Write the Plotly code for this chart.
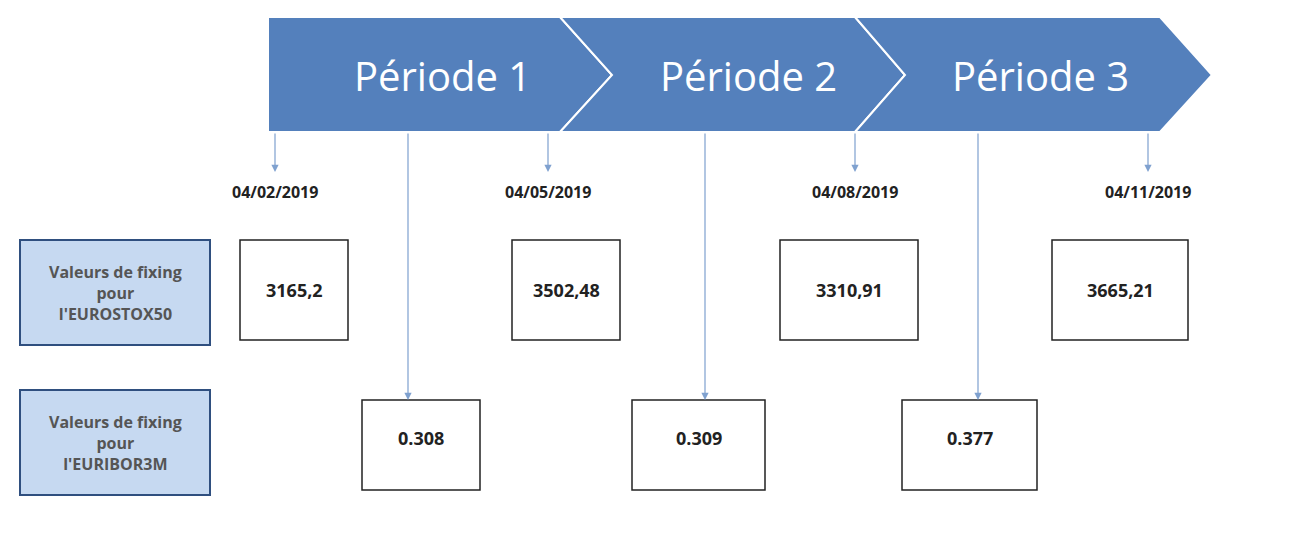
import plotly.graph_objects as go

periods = ["Période 1", "Période 2", "Période 3"]
dates = ["04/02/2019", "04/05/2019", "04/08/2019", "04/11/2019"]
eurostoxx = ["3165,2", "3502,48", "3310,91", "3665,21"]
euribor = ["0.308", "0.309", "0.377"]
row_labels = ["Valeurs de fixing<br>pour<br>l'EUROSTOX50", "Valeurs de fixing<br>pour<br>l'EURIBOR3M"]

BLUE = "#5480BC"
LINE = "#7FA1CF"
fig = go.Figure()
shapes, ann = [], []

top, bot, mid = 17, 132, 75
chev = [(268, 560, 612), (560, 855, 905), (855, 1160, 1212)]
label_x = [442, 748, 1040]
for i, (x0, x1, tip) in enumerate(chev):
    if i == 0:
        path = f"M{x0},{top} L{x1},{top} L{tip},{mid} L{x1},{bot} L{x0},{bot} Z"
    else:
        notch = chev[i-1][2]
        path = f"M{x0},{top} L{x1},{top} L{tip},{mid} L{x1},{bot} L{x0},{bot} L{notch},{mid} Z"
    shapes.append(dict(type="path", path=path, fillcolor=BLUE, line=dict(color="white", width=2), layer="below"))
    ann.append(dict(x=label_x[i], y=mid, text=periods[i], showarrow=False,
                    font=dict(size=40, color="white", family="Open Sans")))

date_x = [275, 548, 855, 1148]
for x, d in zip(date_x, dates):
    ann.append(dict(x=x, y=172, ax=x, ay=bot, axref="x", ayref="y", xref="x", yref="y", text="",
                    showarrow=True, arrowhead=2, arrowsize=1.2, arrowwidth=1.2, arrowcolor=LINE))
    ann.append(dict(x=x, y=192, text=f"<b>{d}</b>", showarrow=False, font=dict(size=16, color="#222", family="Open Sans")))

long_x = [408, 705, 978]
for x in long_x:
    ann.append(dict(x=x, y=400, ax=x, ay=bot, axref="x", ayref="y", xref="x", yref="y", text="",
                    showarrow=True, arrowhead=2, arrowsize=1.2, arrowwidth=1.2, arrowcolor=LINE))

for (y0, y1), lab in zip([(240, 345), (390, 495)], row_labels):
    shapes.append(dict(type="rect", x0=20, x1=210, y0=y0, y1=y1, fillcolor="#C6D9F1", line=dict(color="#2F4F7F", width=2)))
    ann.append(dict(x=115, y=(y0 + y1) / 2, text=f"<b>{lab}</b>", showarrow=False,
                    font=dict(size=16, color="#555", family="Open Sans")))

top_boxes = [(240, 348), (512, 620), (780, 918), (1052, 1188)]
for (x0, x1), v in zip(top_boxes, eurostoxx):
    shapes.append(dict(type="rect", x0=x0, x1=x1, y0=240, y1=340, fillcolor="white", line=dict(color="#222", width=1.5)))
    ann.append(dict(x=(x0 + x1) / 2, y=290, text=f"<b>{v}</b>", showarrow=False, font=dict(size=18, color="#222", family="Open Sans")))
bot_boxes = [(362, 480), (632, 765), (902, 1037)]
for (x0, x1), v in zip(bot_boxes, euribor):
    shapes.append(dict(type="rect", x0=x0, x1=x1, y0=400, y1=490, fillcolor="white", line=dict(color="#222", width=1.5)))
    ann.append(dict(x=(x0 + x1) / 2, y=438, text=f"<b>{v}</b>", showarrow=False, font=dict(size=18, color="#222", family="Open Sans")))

fig.update_layout(width=1300, height=534, margin=dict(l=0, r=0, t=0, b=0),
                  paper_bgcolor="white", plot_bgcolor="white", shapes=shapes, annotations=ann,
                  xaxis=dict(range=[8, 1308], visible=False, fixedrange=True),
                  yaxis=dict(range=[542, 8], visible=False, fixedrange=True), showlegend=False)
fig.write_html("out.html")
